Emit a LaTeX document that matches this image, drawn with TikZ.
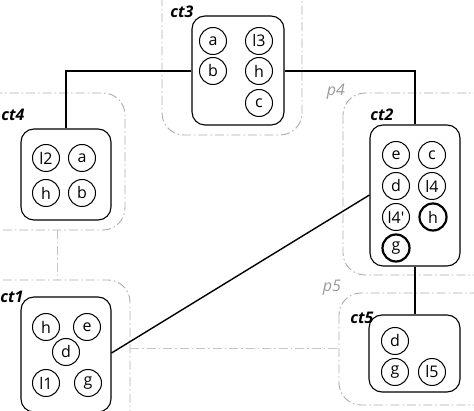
\documentclass[tikz,border=0pt]{standalone}
\usepackage{fontspec}
\setmainfont{Open Sans}
\usetikzlibrary{positioning,calc}

\begin{document}
\begin{tikzpicture}[x=1pt,y=-1pt,
    var/.style={circle,draw,line width=1pt,minimum size=27pt,inner sep=0pt,font=\fontsize{16}{17}\selectfont},
    hot/.style={var,line width=2.2pt},
    ctbox/.style={draw,line width=1.1pt,rounded corners=13pt,inner sep=0pt},
    part/.style={draw=gray!65,line width=0.9pt,rounded corners=22pt,dash pattern=on 9pt off 3pt on 1.5pt off 3pt},
    plink/.style={draw=gray!45,line width=0.8pt,dash pattern=on 9pt off 3pt on 1.5pt off 3pt},
    link/.style={line width=1.4pt},
    ctname/.style={font=\fontsize{16}{17}\selectfont\bfseries\itshape},
    pname/.style={text=gray!80,font=\fontsize{16}{17}\selectfont\itshape}]
    \useasboundingbox (0,0) rectangle (474,411);
    \clip (0,0) rectangle (474,411);

    % partitions
    \draw[part] (162,-25) rectangle (302,135);
    \draw[part] (-40,93) rectangle (125,230);
    \draw[part] (343,93) rectangle (520,275);
    \draw[part] (339,293) rectangle (520,405);
    \draw[part] (-40,280) rectangle (130,450);
    \coordinate (p4s) at (57,230);
    \coordinate (p1n) at (57,280);
    \coordinate (p1e) at (130,348);
    \coordinate (p5w) at (339,348);
    \draw[plink] (p4s) -- (p1n);
    \draw[plink] (p1e) -- (p5w);
    \node[pname] at (336,92) {p4};
    \node[pname] at (332,288) {p5};

    % cliques
    \node[ctbox,minimum width=92pt,minimum height=109pt] (ct3) at (238,70.5) {};
    \node[ctbox,minimum width=90pt,minimum height=91pt] (ct4) at (66,174.5) {};
    \node[ctbox,minimum width=90pt,minimum height=141pt] (ct2) at (415,195.5) {};
    \node[ctbox,minimum width=91pt,minimum height=77pt] (ct5) at (414.5,353.5) {};
    \node[ctbox,minimum width=90pt,minimum height=115pt] (ct1) at (66,354.5) {};

    \node[ctname] at (182,12) {ct3};
    \node[ctname] at (13,115) {ct4};
    \node[ctname] at (382,115) {ct2};
    \node[ctname] at (362,318) {ct5};
    \node[ctname] at (12,297) {ct1};

    % variables
    \foreach \n/\x/\y/\t in {a3/213/41/a, b3/213/71/b, l3/259/41/l3, h3/259/71/h, c3/259/103/c,
        l2/46/158/l2, a4/82/158/a, h4/46/193/h, b4/82/193/b,
        e2/396/155/e, c2/432/155/c, d2/396/186/d, l4/432/186/l4, l4p/396/217/l4\textquotesingle,
        d5/395/341/d, g5/395/372/g, l5/432/372/l5,
        h1/46/327/h, e1/87/327/e, d1/66/352/d, l1/46/383/l1, g1/88/383/g}
        \node[var] (\n) at (\x,\y) {\t};
    \node[hot] (h2) at (433,217) {h};
    \node[hot] (g2) at (396,248) {g};

    % separators
    \coordinate (j34) at (66,71);
    \coordinate (j32) at (415,71);
    \draw[link] (ct3.west |- b3) -- (j34) -- (ct4.north -| j34);
    \draw[link] (ct3.east |- h3) -- (j32) -- (ct2.north);
    \draw[link] (ct2.south) -- (ct5.north -| ct2.south);
    \draw[link] (ct1.east |- 0,353) -- (ct2.west |- 0,195);
\end{tikzpicture}
\end{document}
